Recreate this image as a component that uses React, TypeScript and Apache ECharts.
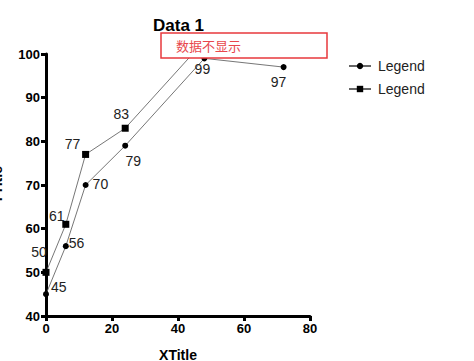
import React, { useEffect, useRef } from "react";
import * as echarts from "echarts";

const circleX = [0, 6, 12, 24, 48, 72];
const circleY = [45, 56, 70, 79, 99, 97];
const squareX = [0, 6, 12, 24, 48];
const squareY = [50, 61, 77, 83, 103];
const legendNames = ["Legend", "Legend"];
const hiddenNote = "数据不显示";

const circleLabel: any[] = [
  { position: "right", offset: [-3, -7] },
  { position: "right", offset: [-5, -3] },
  { position: "right", offset: [-1, -1] },
  { position: "bottom", offset: [8, 0] },
  { position: "bottom", offset: [-2, -4] },
  { position: "bottom", offset: [-5, 0] },
];
const squareLabel: any[] = [
  { position: "top", offset: [-7, -5] },
  { position: "top", offset: [-9, 7] },
  { position: "top", offset: [-13, 5] },
  { position: "top", offset: [-4, 1] },
  { show: false },
];

const FONT = "'Liberation Sans', Arial, sans-serif";

export default function App() {
  const ref = useRef<HTMLDivElement>(null);
  useEffect(() => {
    const chart = echarts.init(ref.current!, null, { renderer: "svg" });
    const labelStyle = { fontSize: 14, color: "#222", fontFamily: FONT };
    const axisCommon = {
      axisLine: { show: true, onZero: false, lineStyle: { color: "#000", width: 3 } },
      axisTick: { show: true, length: 5, lineStyle: { color: "#000", width: 3 } },
      axisLabel: { fontSize: 13, fontWeight: "bold", color: "#000", fontFamily: FONT, margin: 6 },
      splitLine: { show: false },
      nameLocation: "middle",
      nameTextStyle: { fontSize: 14, fontWeight: "bold", color: "#000", fontFamily: FONT },
    };
    chart.setOption({
      animation: false,
      backgroundColor: "#fff",
      title: {
        text: "Data 1",
        left: 148,
        top: 12,
        textStyle: { fontSize: 17, fontWeight: "bold", color: "#000", fontFamily: FONT },
      },
      legend: {
        left: 343,
        top: 54,
        orient: "vertical",
        itemWidth: 22,
        itemHeight: 8,
        itemGap: 9,
        textStyle: { fontSize: 14, color: "#222", fontFamily: FONT, padding: [0, 0, 0, 2] },
        data: ["s1", "s2"],
        formatter: (n: string) => (n === "s1" ? legendNames[0] : legendNames[1]),
      },
      grid: { left: 46, top: 54, right: 164, bottom: 45, containLabel: false, outerBoundsMode: "none" },
      xAxis: {
        type: "value",
        min: 0,
        max: 80,
        interval: 20,
        name: "XTitle",
        nameGap: 32,
        ...axisCommon,
      },
      yAxis: {
        type: "value",
        min: 40,
        max: 100,
        interval: 10,
        name: "YTitle",
        nameGap: 42,
        ...axisCommon,
      },
      series: [
        {
          name: "s1",
          type: "line",
          symbol: "circle",
          symbolSize: 6,
          clip: true,
          lineStyle: { color: "#666", width: 0.9 },
          itemStyle: { color: "#000" },
          label: { show: true, ...labelStyle },
          data: circleX.map((x, i) => ({ value: [x, circleY[i]], label: circleLabel[i] })),
        },
        {
          name: "s2",
          type: "line",
          symbol: "rect",
          symbolSize: 7,
          clip: true,
          lineStyle: { color: "#666", width: 0.9 },
          itemStyle: { color: "#000" },
          label: { show: true, ...labelStyle },
          data: squareX.map((x, i) => ({ value: [x, squareY[i]], label: squareLabel[i] })),
        },
      ],
      graphic: [
        {
          type: "rect",
          z: 100,
          shape: { x: 161, y: 33, width: 166, height: 25 },
          style: { fill: "#fff", stroke: "#e8383d", lineWidth: 1.5 },
        },
        {
          type: "text",
          z: 101,
          x: 176,
          y: 45,
          style: {
            text: hiddenNote,
            fill: "#e8474c",
            fontSize: 13,
            fontFamily: "'Noto Sans CJK SC', sans-serif",
            verticalAlign: "middle",
          },
        },
      ],
    });
    return () => chart.dispose();
  }, []);
  return <div ref={ref} style={{ width: 474, height: 361, position: "absolute", left: 0, top: 0 }} />;
}
